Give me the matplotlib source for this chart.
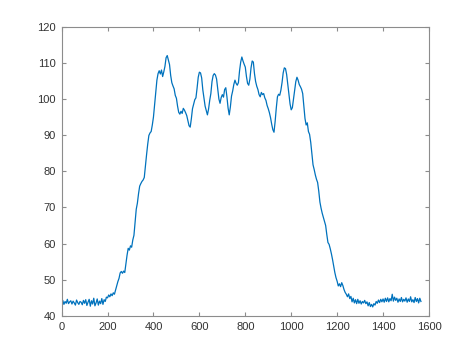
import numpy as np
import matplotlib
matplotlib.use("Agg")
import matplotlib.pyplot as plt

STEP = 5
signal = [
    43.6, 44.3, 43.2, 44.0, 43.5, 44.6, 43.4, 43.9, 44.2, 43.3, 44.1, 43.6, 43.0, 44.4, 43.7, 43.2, 44.0, 43.8, 43.1, 44.3,
    43.5, 44.5, 42.9, 43.8, 44.6, 42.7, 44.2, 43.3, 44.9, 42.8, 43.6, 44.7, 43.0, 44.1, 43.4, 44.8, 43.2, 44.5, 44.0, 45.2,
    45.0, 45.8, 45.3, 46.1, 45.6, 46.4, 46.0, 47.2, 48.3, 49.5, 50.4, 51.9, 52.3, 51.8, 52.4, 52.0, 54.5, 56.8, 58.7, 58.2,
    59.4, 59.0, 61.0, 62.3, 66.0, 69.5, 71.2, 73.8, 75.9, 76.6, 77.2, 77.6, 78.3, 81.5, 84.6, 87.5, 89.9, 90.6, 91.0, 92.8,
    95.0, 98.5, 102.0, 105.2, 107.0, 107.8, 106.9, 108.0, 106.2, 107.5, 109.0, 111.4, 112.0, 110.8, 109.5, 106.5, 104.5, 103.6, 102.8, 101.0,
    100.2, 98.0, 96.3, 95.8, 96.6, 96.0, 97.4, 96.9, 96.2, 95.4, 94.0, 92.6, 92.2, 94.5, 97.3, 98.5, 99.8, 100.3, 103.0, 106.0,
    107.4, 107.2, 105.8, 102.5, 100.2, 98.0, 96.8, 95.6, 97.2, 99.6, 101.5, 104.8, 106.5, 107.0, 106.6, 105.5, 102.8, 100.0, 98.8, 100.4,
    101.2, 100.5, 102.6, 103.1, 100.6, 97.5, 95.6, 97.8, 100.8, 102.2, 104.0, 105.2, 104.3, 103.8, 104.5, 107.8, 110.2, 111.6, 110.5, 109.6,
    108.8, 106.2, 104.3, 103.8, 105.5, 108.6, 110.5, 110.2, 107.0, 104.8, 103.5, 102.6, 101.2, 100.6, 101.8, 101.2, 101.5, 100.3, 99.6, 98.2,
    97.3, 96.2, 94.8, 93.0, 91.5, 90.8, 93.8, 97.5, 100.6, 101.3, 101.0, 102.4, 104.5, 107.2, 108.6, 108.4, 106.8, 104.0, 101.0, 98.6,
    97.0, 97.6, 100.0, 102.6, 104.8, 106.0, 105.2, 104.0, 103.4, 102.7, 101.5, 98.0, 94.6, 92.8, 93.4, 91.0, 90.2, 88.0, 85.0, 81.8,
    80.5, 79.0, 77.8, 76.9, 74.5, 71.5, 69.8, 68.4, 67.3, 66.2, 65.0, 62.5, 60.3, 59.8, 58.6, 57.2, 55.6, 53.8, 52.0, 50.6,
    49.6, 48.3, 48.9, 48.1, 49.2, 48.4, 47.3, 46.5, 46.0, 45.3, 46.1, 44.8, 45.4, 43.9, 44.9, 43.6, 44.5, 43.4, 44.6, 43.5,
    44.2, 43.3, 44.0, 43.6, 44.3, 43.4, 43.9, 42.8, 43.7, 42.6, 43.2, 42.5, 43.4, 43.0, 44.0, 43.5, 44.4, 43.7, 44.6, 43.9,
    44.7, 43.8, 44.9, 44.0, 45.0, 43.9, 44.8, 44.2, 46.0, 44.1, 45.2, 44.3, 44.9, 43.8, 44.7, 44.0, 45.1, 43.9, 44.6, 44.1,
    45.0, 43.8, 44.7, 44.0, 45.3, 43.9, 44.5, 43.7, 45.1, 44.0, 44.8, 43.6, 44.9, 44.0,
]
xticks = [0, 200, 400, 600, 800, 1000, 1200, 1400, 1600]
yticks = [40, 50, 60, 70, 80, 90, 100, 110, 120]

x = np.arange(len(signal)) * STEP

plt.rcParams['font.family'] = ['Liberation Sans', 'DejaVu Sans']
fig = plt.figure(figsize=(4.74, 3.55), dpi=100)
ax = fig.add_axes([0.13, 0.11, 0.775, 0.815])
ax.plot(x, signal, color='#0072BD', linewidth=0.9)

ax.set_xlim(0, 1600)
ax.set_ylim(40, 120)
ax.set_xticks(xticks)
ax.set_yticks(yticks)
ax.tick_params(direction='in', length=3, width=0.8, color='#8c8c8c',
               labelcolor='#333333', labelsize=8, top=True, right=True, pad=4)
for s in ax.spines.values():
    s.set_color('#8c8c8c')
    s.set_linewidth(0.8)

fig.savefig('out.png', dpi=100)
